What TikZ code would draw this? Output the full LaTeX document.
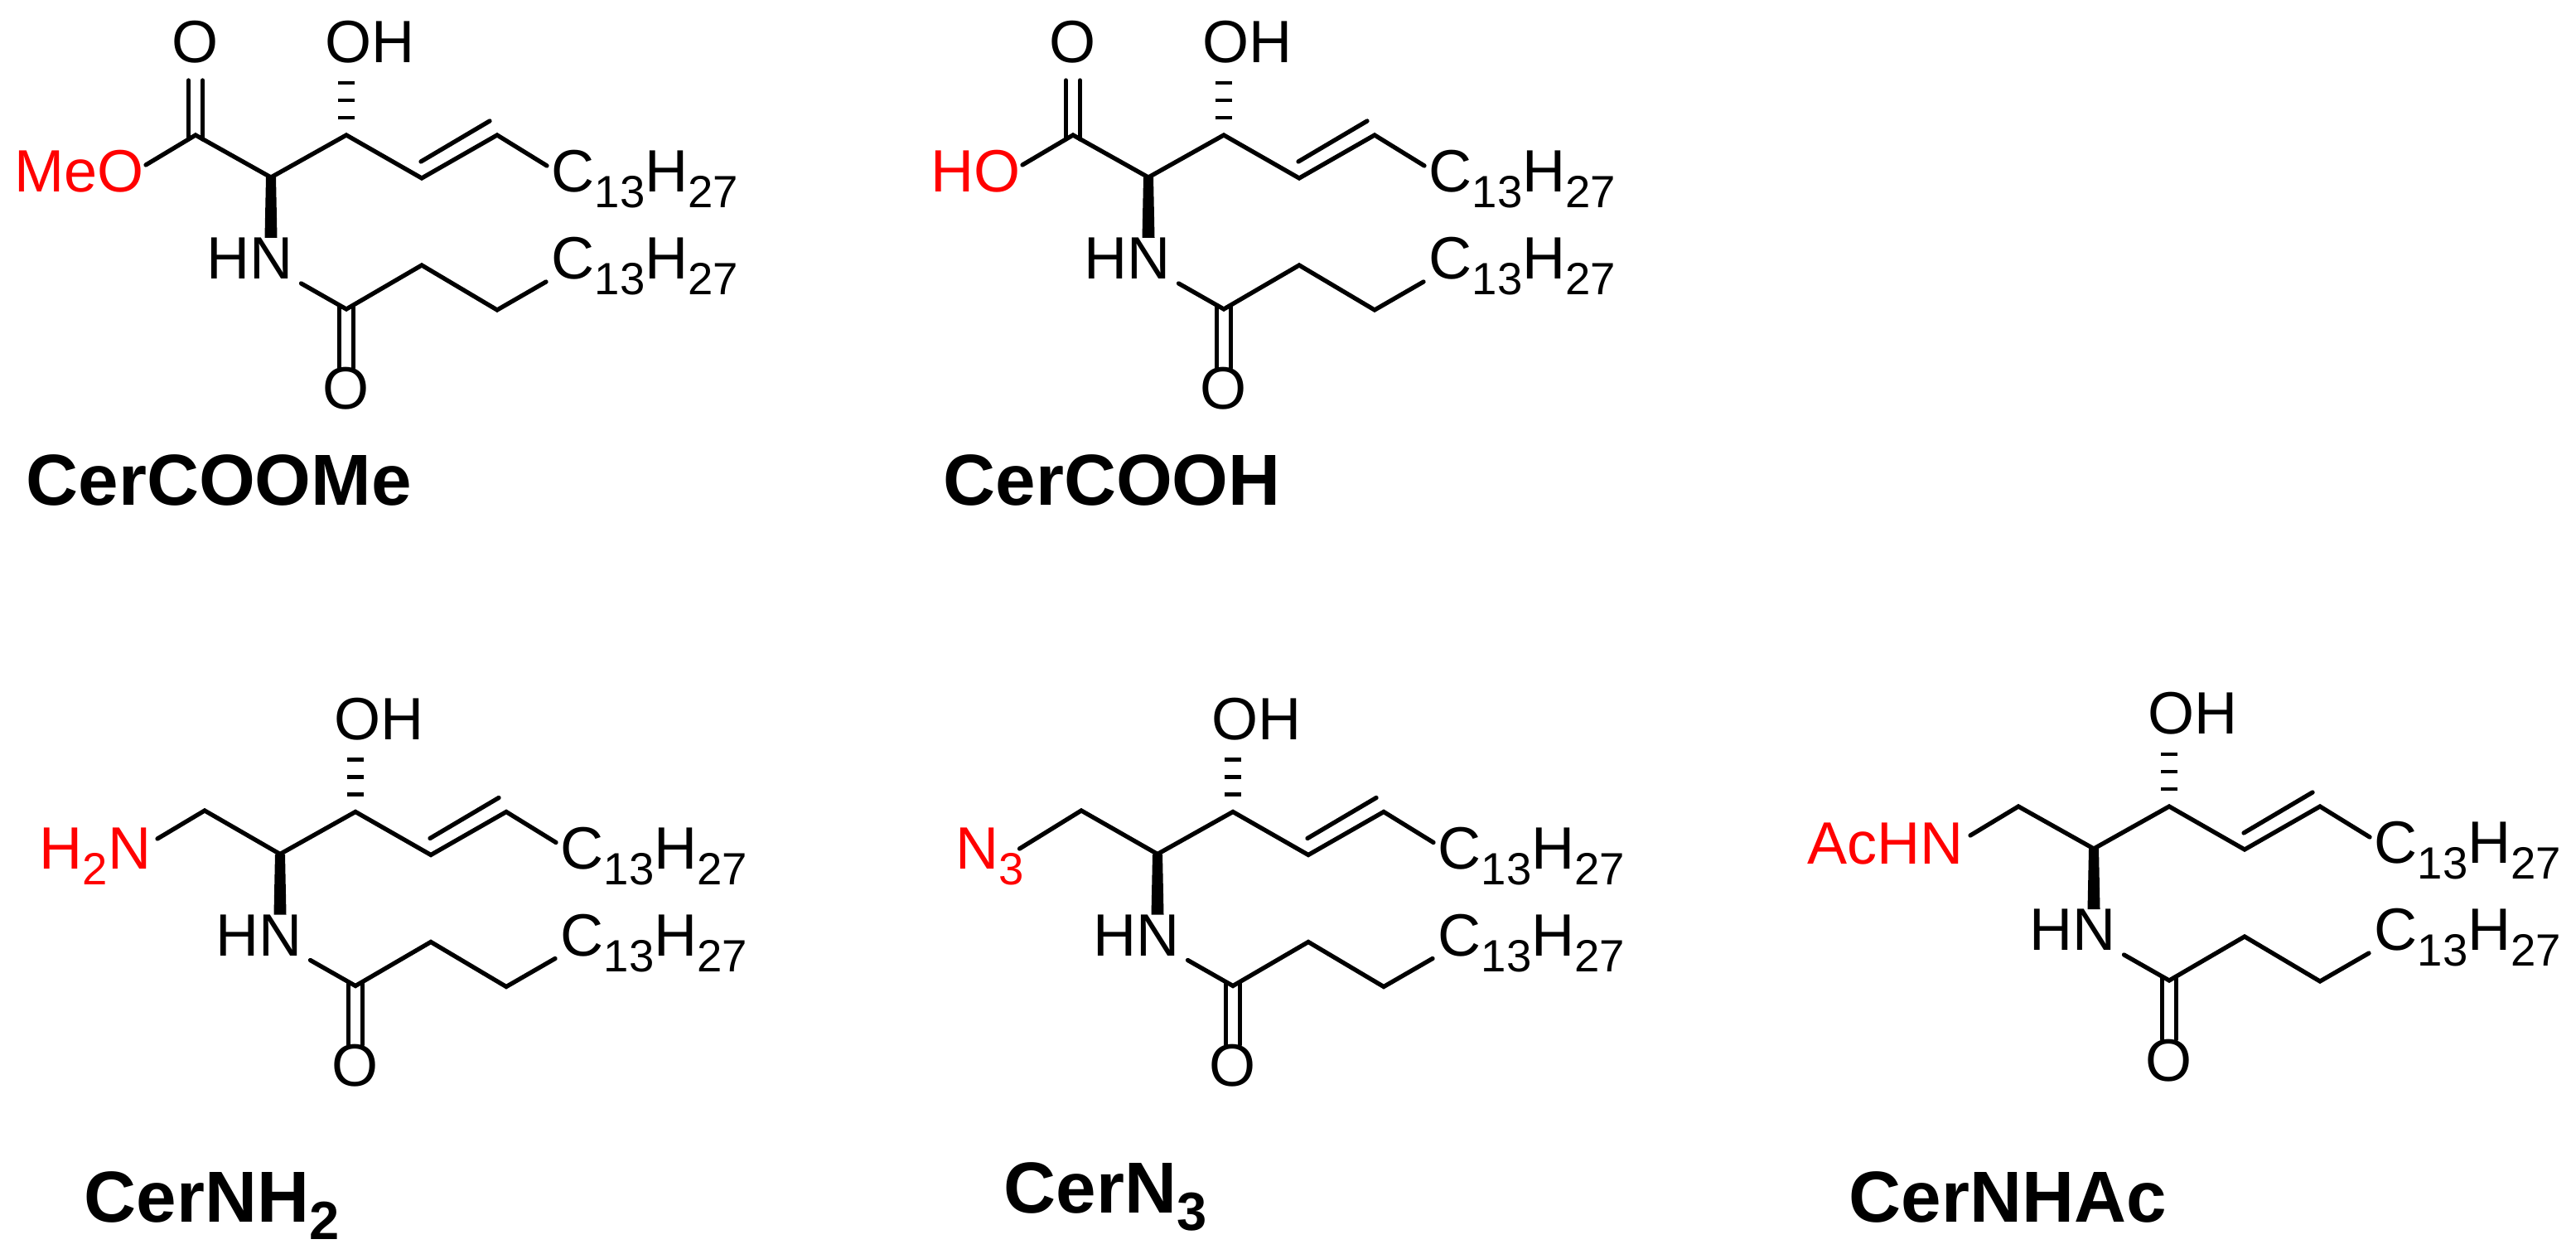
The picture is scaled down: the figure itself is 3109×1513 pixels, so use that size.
\documentclass[tikz,border=0pt]{standalone}
\usepackage{fontspec}
\setmainfont{Liberation Sans}
\newcommand{\lowidx}[1]{\raisebox{-5.5pt}{\fontsize{15.5}{18}\selectfont #1}}
\newcommand{\lowbold}[1]{\raisebox{-6pt}{\fontsize{18.5}{22}\selectfont #1}}
\tikzset{
  atom/.style={inner sep=0pt, anchor=base west, font=\fontsize{20.5}{24}\selectfont},
  head/.style={atom, text=red},
  cername/.style={inner sep=0pt, anchor=base west, font=\fontsize{24.8}{30}\selectfont\bfseries},
  bond/.style={line width=1.5pt, line cap=round},
  hashbond/.style={line width=0.2cm, dash pattern=on 0.045cm off 0.165cm},
  certail/.pic={
    \coordinate (c2) at (0,0);
    \coordinate (c3) at (91,-51);
    \coordinate (c4) at (182,1);
    \coordinate (c5) at (273,-51);
    \coordinate (e1) at (333,-14);
    \coordinate (d1) at (181,-19);
    \coordinate (d2) at (264,-68);
    \coordinate (h1) at (91,-69.5);
    \coordinate (h2) at (91,-116.5);
    \coordinate (wa) at (-6,0);
    \coordinate (wb) at (6,0);
    \coordinate (wc) at (7.5,73);
    \coordinate (wd) at (-7.5,73);
    \coordinate (n1) at (36.5,128);
    \coordinate (c6) at (91,159);
    \coordinate (c7) at (182,106);
    \coordinate (c8) at (273,160);
    \coordinate (e2) at (332,126);
    \coordinate (o1) at (82.5,155);
    \coordinate (o2) at (82.5,230);
    \coordinate (o3) at (99.5,155);
    \coordinate (o4) at (99.5,230);
    \node[atom] (oh) at (65,-138) {OH};
    \node[atom] (hn) at (-78,122.5) {HN};
    \node[atom] (ch1) at (338,17.5) {C\lowidx{13}H\lowidx{27}};
    \node[atom] (ch2) at (338,122.5) {C\lowidx{13}H\lowidx{27}};
    \node[atom, anchor=base] (ox) at (91,280) {O};
    \draw[bond] (c2) -- (c3) -- (c4) -- (c5) -- (e1);
    \draw[bond] (d1) -- (d2);
    \draw[hashbond] (h1) -- (h2);
    \fill (wa) -- (wb) -- (wc) -- (wd) -- cycle;
    \draw[bond] (n1) -- (c6) -- (c7) -- (c8) -- (e2);
    \draw[bond] (o1) -- (o2);
    \draw[bond] (o3) -- (o4);
  }
}
\begin{document}
\begin{tikzpicture}[x=0.01cm, y=-0.01cm]
\useasboundingbox (0,0) rectangle (3109,1513);
\pic (a) at (327,214) {certail};
\pic (b) at (1386,214) {certail};
\pic (c) at (338,1030.5) {certail};
\pic (d) at (1397,1030.5) {certail};
\pic (e) at (2527,1024) {certail};
\coordinate (ac1) at (236,163);
\coordinate (ae) at (176,199);
\coordinate (ad1) at (227.5,97);
\coordinate (ad2) at (227.5,168);
\coordinate (ad3) at (244.5,97);
\coordinate (ad4) at (244.5,168);
\node[atom, anchor=base] (ao) at (236,76) {O};
\node[head] (ameo) at (17,232) {MeO};
\draw[bond] (ac2) -- (ac1) -- (ae);
\draw[bond] (ad1) -- (ad2);
\draw[bond] (ad3) -- (ad4);
\node[cername] (alabel) at (31,610) {CerCOOMe};
\coordinate (bc1) at (1295,163);
\coordinate (be) at (1234,199);
\coordinate (bd1) at (1286.5,97);
\coordinate (bd2) at (1286.5,168);
\coordinate (bd3) at (1303.5,97);
\coordinate (bd4) at (1303.5,168);
\node[atom, anchor=base] (bo) at (1295,76) {O};
\node[head] (bho) at (1123,232) {HO};
\draw[bond] (bc2) -- (bc1) -- (be);
\draw[bond] (bd1) -- (bd2);
\draw[bond] (bd3) -- (bd4);
\node[cername] (blabel) at (1138,610) {CerCOOH};
\coordinate (cc1) at (247,978);
\coordinate (ce) at (190,1012);
\node[head] (chn) at (47,1048) {H\lowidx{2}N};
\draw[bond] (cc2) -- (cc1) -- (ce);
\node[cername] (clabel) at (101,1474) {CerNH\lowbold{2}};
\coordinate (dc1) at (1305,978);
\coordinate (de) at (1230.5,1024);
\node[head] (dn) at (1153,1048) {N\lowidx{3}};
\draw[bond] (dc2) -- (dc1) -- (de);
\node[cername] (dlabel) at (1211,1463) {CerN\lowbold{3}};
\coordinate (ec1) at (2436,973);
\coordinate (ee) at (2378,1008);
\node[head] (eac) at (2181,1043) {AcHN};
\draw[bond] (ec2) -- (ec1) -- (ee);
\node[cername] (elabel) at (2231,1474) {CerNHAc};
\end{tikzpicture}
\end{document}
